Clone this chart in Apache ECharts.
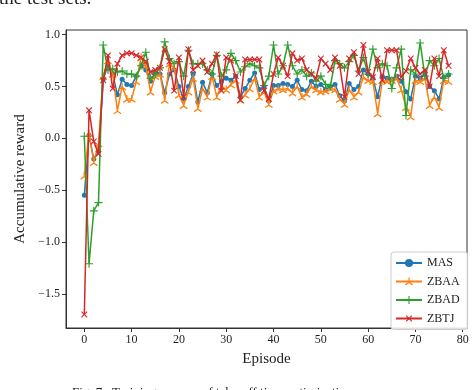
<!DOCTYPE html>
<html><head><meta charset="utf-8">
<script src="https://cdn.jsdelivr.net/npm/echarts@6/dist/echarts.min.js"></script>
<style>html,body{margin:0;padding:0;background:#fff;}#c{width:474px;height:390px;}</style>
</head><body><div id="c"></div>
<script>
const seriesNames = ['MAS', 'ZBAA', 'ZBAD', 'ZBTJ'];
const xTicks = [0, 10, 20, 30, 40, 50, 60, 70, 80];
const yTicks = [-1.5, -1.0, -0.5, 0.0, 0.5, 1.0];
const MAS = [-0.55,0.03,-0.20,-0.12,0.57,0.70,0.62,0.42,0.57,0.52,0.51,0.60,0.70,0.66,0.55,0.63,0.62,0.44,0.62,0.66,
0.50,0.38,0.50,0.62,0.35,0.54,0.44,0.62,0.51,0.55,0.58,0.56,0.60,0.40,0.48,0.56,0.63,0.47,0.50,0.36,
0.51,0.51,0.53,0.52,0.50,0.56,0.47,0.46,0.55,0.50,0.52,0.47,0.50,0.52,0.41,0.36,0.53,0.47,0.50,0.66,
0.62,0.58,0.40,0.60,0.58,0.57,0.60,0.55,0.45,0.38,0.60,0.58,0.62,0.50,0.46,0.38,0.59,0.61];
const ZBAA = [-0.36,0.05,-0.23,-0.05,0.60,0.75,0.62,0.27,0.50,0.38,0.38,0.55,0.78,0.70,0.45,0.60,0.62,0.37,0.72,0.68,
0.42,0.32,0.45,0.58,0.29,0.48,0.40,0.60,0.40,0.50,0.47,0.52,0.56,0.37,0.42,0.48,0.58,0.40,0.45,0.33,
0.46,0.48,0.47,0.48,0.44,0.50,0.40,0.43,0.50,0.47,0.45,0.46,0.48,0.47,0.38,0.33,0.47,0.40,0.45,0.59,
0.56,0.55,0.24,0.56,0.55,0.56,0.58,0.47,0.30,0.21,0.56,0.55,0.58,0.32,0.40,0.30,0.56,0.55];
const ZBAD = [0.02,-1.21,-0.70,-0.62,0.90,0.66,0.67,0.64,0.65,0.62,0.62,0.60,0.70,0.83,0.58,0.62,0.68,0.93,0.77,0.72,
0.74,0.60,0.85,0.72,0.72,0.72,0.66,0.62,0.80,0.60,0.66,0.82,0.75,0.64,0.69,0.72,0.70,0.68,0.51,0.60,
0.90,0.62,0.70,0.90,0.70,0.62,0.66,0.60,0.63,0.55,0.60,0.52,0.50,0.75,0.72,0.68,0.74,0.80,0.65,0.78,
0.62,0.86,0.68,0.72,0.70,0.48,0.68,0.86,0.22,0.66,0.62,0.92,0.60,0.75,0.70,0.77,0.58,0.62];
const ZBTJ = [-1.70,0.27,-0.03,-0.15,0.56,0.80,0.48,0.72,0.80,0.82,0.82,0.80,0.78,0.74,0.64,0.66,0.68,0.86,0.74,0.46,
0.78,0.40,0.86,0.66,0.70,0.75,0.64,0.72,0.81,0.46,0.78,0.75,0.60,0.37,0.76,0.76,0.76,0.76,0.46,0.38,
0.62,0.78,0.70,0.60,0.82,0.75,0.77,0.66,0.62,0.58,0.77,0.72,0.66,0.78,0.70,0.40,0.77,0.83,0.62,0.90,
0.64,0.59,0.77,0.56,0.85,0.85,0.85,0.59,0.65,0.77,0.68,0.62,0.66,0.50,0.77,0.60,0.85,0.70];

const colors = ['#1f77b4', '#ff7f0e', '#2ca02c', '#d62728'];
const plusPath = 'path://M4.3,0H5.7V4.3H10V5.7H5.7V10H4.3V5.7H0V4.3H4.3Z';
function triPath() {
  const t = 0.14, parts = [];
  [-90, 30, 150].forEach(function (a) {
    const r = a * Math.PI / 180, c = Math.cos(r), s = Math.sin(r);
    const px = -s * t, py = c * t;
    const pts = [[px, py], [c + px, s + py], [c - px, s - py], [-px, -py]];
    parts.push('M' + pts.map(p => ((p[0] + 1) * 5).toFixed(2) + ',' + ((p[1] + 1) * 5).toFixed(2)).join('L') + 'Z');
  });
  return 'path://' + parts.join('');
}
const symbols = ['circle', triPath(), plusPath, plusPath];
const symbolSizes = [5, 8, 8, 8];
const rotates = [0, 0, 0, 45];
const allData = [MAS, ZBAA, ZBAD, ZBTJ];

const serif = 'Liberation Serif';
const chart = echarts.init(document.getElementById('c'), null, {renderer: 'canvas'});
chart.setOption({
  animation: false,
  backgroundColor: '#fff',
  textStyle: {fontFamily: serif},
  grid: {left: 66, right: 7, top: 30, bottom: 62, show: true, borderColor: '#333', borderWidth: 1, backgroundColor: 'transparent'},
  xAxis: {
    type: 'value', min: -3.87, max: 80.9,
    name: 'Episode', nameLocation: 'middle', nameGap: 24,
    nameTextStyle: {fontFamily: serif, fontSize: 15, color: '#222'},
    splitLine: {show: false},
    axisLine: {show: true, onZero: false, lineStyle: {color: '#333'}},
    axisTick: {show: true, length: 4, customValues: xTicks, lineStyle: {color: '#333'}},
    axisLabel: {customValues: xTicks, fontFamily: serif, fontSize: 12, color: '#222', margin: 6}
  },
  yAxis: {
    type: 'value', min: -1.83, max: 1.045,
    name: 'Accumulative reward', nameLocation: 'middle', nameGap: 36,
    nameTextStyle: {fontFamily: serif, fontSize: 15, color: '#222'},
    splitLine: {show: false},
    axisLine: {show: true, onZero: false, lineStyle: {color: '#333'}},
    axisTick: {show: true, length: 4, customValues: yTicks, lineStyle: {color: '#333'}},
    axisLabel: {customValues: yTicks, fontFamily: serif, fontSize: 12, color: '#222', margin: 6,
      formatter: v => (v < 0 ? '\u2212' : '') + Math.abs(v).toFixed(1)}
  },
  legend: {
    orient: 'vertical', left: 391, top: 252, width: 70,
    padding: [5, 8, 5, 4], itemWidth: 26, itemHeight: 10, itemGap: 6.5,
    borderColor: '#ccc', borderWidth: 1, borderRadius: 3, backgroundColor: 'rgba(255,255,255,0.85)',
    textStyle: {fontFamily: serif, fontSize: 12, color: '#222'},
    data: seriesNames
  },
  graphic: [
    {type: 'text', left: -1, top: -10, style: {text: 'the test sets.', font: '19px "Liberation Serif"', fill: '#222'}},
    {type: 'text', left: 72, top: 386, style: {text: 'Fig. 7.  Training process of take-off time optimization', font: '13px "Liberation Serif"', fill: '#222'}}
  ],
  series: seriesNames.map(function (name, k) {
    return {
      name: name, type: 'line',
      data: allData[k].map((v, i) => [i, v]),
      symbol: symbols[k], symbolSize: symbolSizes[k], symbolRotate: rotates[k],
      showAllSymbol: true,
      lineStyle: {width: 1.5, color: colors[k]},
      itemStyle: {color: colors[k]},
      z: 2 + k
    };
  })
});
</script></body></html>
